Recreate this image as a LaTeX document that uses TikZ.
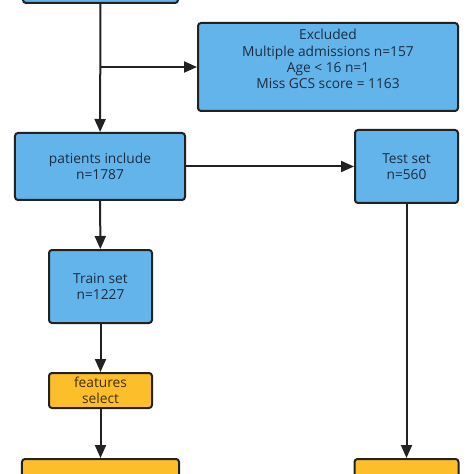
\documentclass[tikz,border=0pt]{standalone}
\usepackage{fontspec}
\setmainfont{Open Sans}
\usepackage{tikz}
\usetikzlibrary{arrows.meta,positioning,calc}
\usepackage{xcolor}
\definecolor{cBlue}{RGB}{99,180,234}
\definecolor{cGold}{RGB}{253,190,44}
\definecolor{cLine}{RGB}{34,34,34}
\definecolor{cText}{RGB}{28,44,66}

\begin{document}
\begin{tikzpicture}[
  x=1bp, y=-1bp,
  font=\fontsize{13.8}{16.3}\selectfont,
  stage/.style={rectangle, rounded corners=3bp, draw=cLine, line width=2bp,
    fill=cBlue, text=cText, align=center, inner sep=2pt},
  model/.style={stage, fill=cGold, text=black!75!cGold},
  flow/.style={-{Triangle[length=13bp,width=11bp]}, line width=2bp, draw=cLine},
]
\useasboundingbox (0,0) rectangle (474,474);
\fill[white] (0,0) rectangle (474,474);
\clip (0,0) rectangle (474,474);
\node[stage, minimum width=155bp, minimum height=44bp] (all) at (100.5,-19) {};
\node[stage, minimum width=260bp, minimum height=88bp, text depth=16bp] (excl) at (328,67)
  {Excluded\\Multiple admissions n=157\\Age < 16 n=1\\Miss GCS score = 1163};
\node[stage, minimum width=170bp, minimum height=67bp] (incl) at (100,166.5)
  {patients include\\n=1787};
\node[stage, minimum width=103bp, minimum height=73bp] (test) at (406.5,166.5)
  {Test set\\n=560};
\node[stage, minimum width=103bp, minimum height=73bp] (train) at (100.5,286.5)
  {Train set\\n=1227};
\node[model, minimum width=103bp, minimum height=35bp] (feat) at (100.5,390.5)
  {features\\select};
\node[model, minimum width=157bp, minimum height=40bp, anchor=north] (fit) at (100.5,458) {};
\node[model, minimum width=104bp, minimum height=40bp, anchor=north] (eval) at (406.5,458) {};
\coordinate (split) at (all.south |- excl.west);
\draw[flow] (all) -- (incl);
\draw[flow] (split) -- (excl);
\draw[flow] (incl) -- (test);
\draw[flow] (incl) -- (train);
\draw[flow] (train) -- (feat);
\draw[flow] (feat) -- (fit);
\draw[flow] (test) -- (eval);
\end{tikzpicture}
\end{document}
